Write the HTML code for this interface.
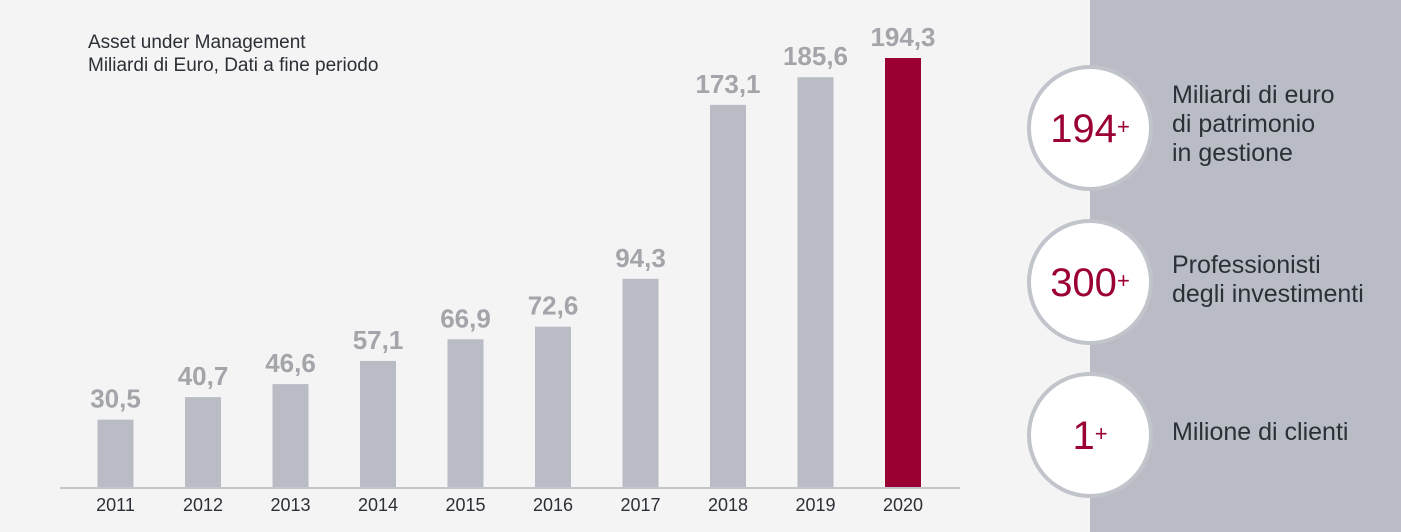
<!DOCTYPE html>
<html><head><meta charset="utf-8"><style>
html,body{margin:0;padding:0;}
body{width:1401px;height:532px;overflow:hidden;background:#f4f4f4;font-family:"Liberation Sans",sans-serif;}
svg{display:block;}
</style></head><body>
<svg width="1401" height="532" xmlns="http://www.w3.org/2000/svg">
<rect x="0" y="0" width="1401" height="532" fill="#f4f4f4"/>
<rect x="1090" y="0" width="311" height="532" fill="#b9bcc5"/>
<text x="88" y="48" font-size="19" fill="#2b2f36">Asset under Management</text>
<text x="88" y="71" font-size="19" fill="#2b2f36">Miliardi di Euro, Dati a fine periodo</text>
<g id="bars"></g>
<line x1="60" y1="488" x2="960" y2="488" stroke="#c4c6cd" stroke-width="2"/>
<g>
<circle cx="1090" cy="128" r="61" fill="#fff" stroke="#c1c4cb" stroke-width="4"/>
<text x="1090" y="142" text-anchor="middle" font-size="40" fill="#9b0033">194<tspan font-size="22" dy="-8">+</tspan></text>
<text x="1172" y="103" font-size="25" fill="#2b2f36"><tspan x="1172">Miliardi di euro</tspan><tspan x="1172" dy="29">di patrimonio</tspan><tspan x="1172" dy="29">in gestione</tspan></text>
</g>
<g>
<circle cx="1090" cy="282" r="61" fill="#fff" stroke="#c1c4cb" stroke-width="4"/>
<text x="1090" y="296" text-anchor="middle" font-size="40" fill="#9b0033">300<tspan font-size="22" dy="-8">+</tspan></text>
<text x="1172" y="273" font-size="25" fill="#2b2f36"><tspan x="1172">Professionisti</tspan><tspan x="1172" dy="29">degli investimenti</tspan></text>
</g>
<g>
<circle cx="1090" cy="435" r="61" fill="#fff" stroke="#c1c4cb" stroke-width="4"/>
<text x="1090" y="449" text-anchor="middle" font-size="40" fill="#9b0033">1<tspan font-size="22" dy="-8">+</tspan></text>
<text x="1172" y="440" font-size="25" fill="#2b2f36">Milione di clienti</text>
</g>
</svg>
<script>
const years = ["2011","2012","2013","2014","2015","2016","2017","2018","2019","2020"];
const values = [30.5,40.7,46.6,57.1,66.9,72.6,94.3,173.1,185.6,194.3];
const valueLabels = ["30,5","40,7","46,6","57,1","66,9","72,6","94,3","173,1","185,6","194,3"];
const NS="http://www.w3.org/2000/svg";
const g=document.getElementById('bars');


const baseY=487, scale=(487-58)/194.3, x0=115.5, step=87.5, bw=36;
const xPos=i=>x0+i*step;
const yPos=v=>baseY-v*scale;
years.forEach((yr,i)=>{
  const cx=xPos(i), top=yPos(values[i]);
  const r=document.createElementNS(NS,'rect');
  r.setAttribute('x',cx-bw/2);r.setAttribute('y',top);r.setAttribute('width',bw);r.setAttribute('height',baseY-top);
  r.setAttribute('fill',i===years.length-1?'#9b0033':'#b9bcc5');
  
  
  g.appendChild(r);
  const t=document.createElementNS(NS,'text');
  t.setAttribute('x',cx);t.setAttribute('y',top-12);t.setAttribute('text-anchor','middle');
  t.setAttribute('font-size','26');t.setAttribute('font-weight','bold');t.setAttribute('fill','#a3a5aa');
  t.textContent=valueLabels[i];
  
  
  g.appendChild(t);
  const l=document.createElementNS(NS,'text');
  l.setAttribute('x',cx);l.setAttribute('y',511);l.setAttribute('text-anchor','middle');
  l.setAttribute('font-size','18');l.setAttribute('fill','#2b2f36');
  l.textContent=yr;
  
  
  g.appendChild(l);
});
</script>
</body></html>
